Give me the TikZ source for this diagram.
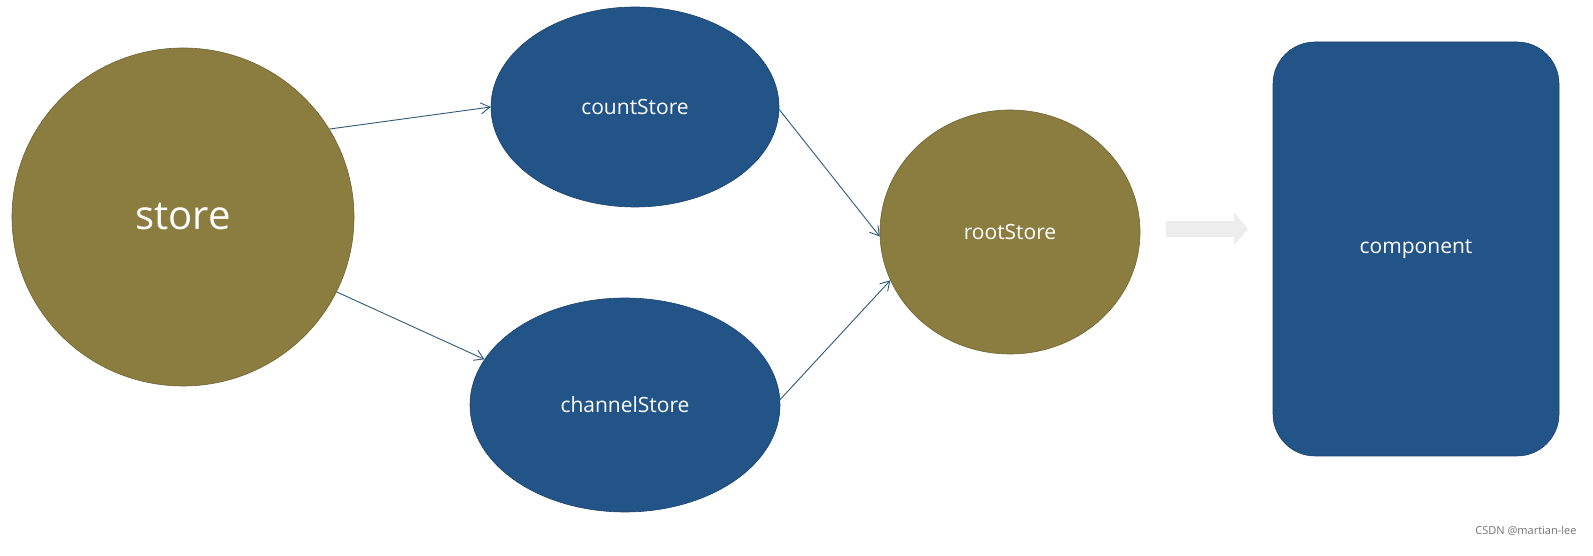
\documentclass[tikz,border=0pt]{standalone}
\usepackage{fontspec}
\setmainfont{Open Sans}
\usetikzlibrary{shapes.geometric,arrows.meta}
\definecolor{olive}{HTML}{8A7D3F}
\definecolor{navy}{HTML}{225487}
\definecolor{edge}{HTML}{2E5A7A}
\begin{document}
\begin{tikzpicture}[x=1pt,y=1pt,
  olv/.style={ellipse,fill=olive,draw=olive!80!black,line width=0.6pt,inner sep=0pt,text=white},
  blu/.style={ellipse,fill=navy,draw=navy!80!black,line width=0.6pt,inner sep=0pt,text=white},
  lbl/.style={font=\fontsize{21}{21}\selectfont},
  conn/.style={draw=edge,line width=0.9pt,-{Straight Barb[length=9pt,width=11pt]}}]
\useasboundingbox[fill=white] (0,0) rectangle (1593,556);
\node[olv,minimum width=342pt,minimum height=338pt,font=\fontsize{40}{40}\selectfont] (store) at (183,339) {store};
\node[blu,lbl,minimum width=288pt,minimum height=200pt] (count) at (635,449) {countStore};
\node[blu,lbl,minimum width=310pt,minimum height=214pt] (channel) at (625,151) {channelStore};
\node[olv,lbl,minimum width=260pt,minimum height=244pt] (root) at (1010,324) {rootStore};
\node[rectangle,rounded corners=42pt,fill=navy,draw=navy!80!black,line width=0.6pt,minimum width=286pt,minimum height=414pt,text=white,lbl] (comp) at (1416,307) {};
\node[lbl,text=white] (comptext) at (1416,307) {component};
\draw[conn] (store.31) -- (count.180);
\draw[conn] (store.-26) -- (channel.162);
\draw[conn] (count.-1) -- (root.182);
\draw[conn] (channel.2) -- (root.202);
\coordinate (ga) at (1166,327);
\coordinate (gb) at (1248,327);
\draw[draw=black!7,line width=16pt,-{Triangle[length=14pt,width=32pt]}] (ga) -- (gb);
\node[text=black!55,font=\fontsize{11}{11}\selectfont,anchor=east] (wm) at (1580,25) {CSDN @martian-lee};
\end{tikzpicture}
\end{document}
